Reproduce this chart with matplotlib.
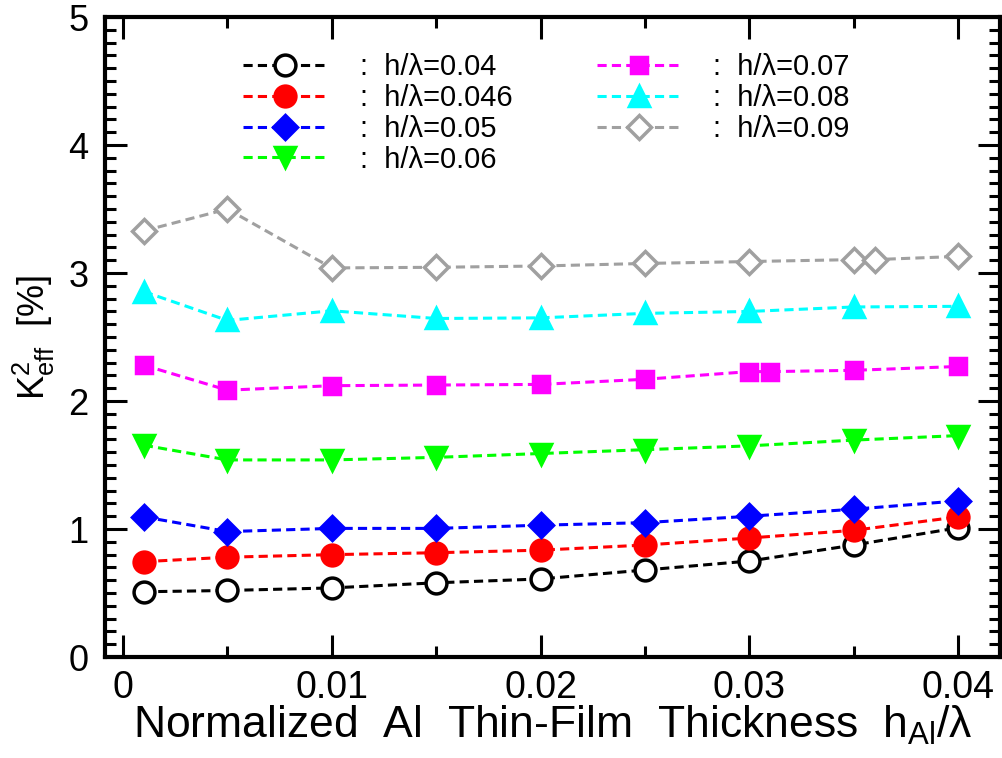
import matplotlib
matplotlib.use("Agg")
import matplotlib.pyplot as plt
from matplotlib.ticker import MultipleLocator

plt.rcParams['font.family'] = ['Liberation Sans', 'DejaVu Sans']
plt.rcParams['mathtext.fontset'] = 'custom'
plt.rcParams['mathtext.rm'] = 'Liberation Sans'
plt.rcParams['mathtext.it'] = 'Liberation Sans'

# ---- data ----
x_std = [0.001, 0.005, 0.010, 0.015, 0.020, 0.025, 0.030, 0.035, 0.040]
x_070 = [0.001, 0.005, 0.010, 0.015, 0.020, 0.025, 0.030, 0.031, 0.035, 0.040]
x_090 = [0.001, 0.005, 0.010, 0.015, 0.020, 0.025, 0.030, 0.035, 0.036, 0.040]

k_040 = [0.51, 0.52, 0.54, 0.58, 0.61, 0.68, 0.75, 0.875, 1.01]
k_046 = [0.745, 0.78, 0.80, 0.815, 0.835, 0.875, 0.93, 0.99, 1.095]
k_050 = [1.095, 0.98, 1.005, 1.005, 1.03, 1.05, 1.10, 1.155, 1.22]
k_060 = [1.655, 1.54, 1.54, 1.56, 1.59, 1.62, 1.65, 1.695, 1.73]
k_070 = [2.28, 2.085, 2.12, 2.125, 2.13, 2.17, 2.23, 2.23, 2.24, 2.27]
k_080 = [2.855, 2.63, 2.705, 2.645, 2.65, 2.685, 2.70, 2.735, 2.74]
k_090 = [3.33, 3.50, 3.04, 3.045, 3.055, 3.075, 3.09, 3.105, 3.105, 3.13]

labels = [':  h/λ=0.04', ':  h/λ=0.046', ':  h/λ=0.05', ':  h/λ=0.06',
          ':  h/λ=0.07', ':  h/λ=0.08', ':  h/λ=0.09']
x_ticks = [0, 0.01, 0.02, 0.03, 0.04]
x_ticklabels = ['0', '0.01', '0.02', '0.03', '0.04']
y_ticks = [0, 1, 2, 3, 4, 5]

fig = plt.figure(figsize=(10.02, 7.58), dpi=100)
ax = fig.add_axes([0.1048, 0.1332, 0.8932, 0.8443])

dash = (3.0, 1.7)
lw = 2.2
series = [
    (x_std, k_040, 'o', 'white', 'black', 15, 'black'),
    (x_std, k_046, 'o', '#ff0000', '#ff0000', 15, '#ff0000'),
    (x_std, k_050, 'D', '#0000ff', '#0000ff', 12.5, '#0000ff'),
    (x_std, k_060, 'v', '#00ff00', '#00ff00', 14.5, '#00ff00'),
    (x_070, k_070, 's', '#ff00ff', '#ff00ff', 12, '#ff00ff'),
    (x_std, k_080, '^', '#00ffff', '#00ffff', 14.5, '#00ffff'),
    (x_090, k_090, 'D', 'white', '#a0a0a0', 12, '#a0a0a0'),
]
handles = []
for (xs, ys, m, fc, ec, ms, lc), lab in zip(series, labels):
    h, = ax.plot(xs, ys, linestyle='--', dashes=dash, color=lc, lw=lw,
                 marker=m, markerfacecolor=fc, markeredgecolor=ec,
                 markersize=ms, markeredgewidth=2.5, label=lab)
    handles.append(h)

ax.set_xlim(-0.00086, 0.0420)
ax.set_ylim(0, 5)
ax.set_xticks(x_ticks)
ax.set_xticklabels(x_ticklabels)
ax.set_yticks(y_ticks)
ax.xaxis.set_minor_locator(MultipleLocator(0.005))
ax.yaxis.set_minor_locator(MultipleLocator(0.1))
ax.tick_params(which='both', direction='in', top=True, right=True, width=2.2)
ax.tick_params(which='major', length=16)
ax.tick_params(which='minor', length=8)
ax.tick_params(axis='y', which='major', labelsize=26, pad=12)
ax.tick_params(axis='x', which='major', labelsize=27, pad=9)
for s in ax.spines.values():
    s.set_linewidth(3)

ax.set_xlabel(r'Normalized  Al  Thin-Film  Thickness  h$_{\mathregular{Al}}$/λ',
              fontsize=32, labelpad=-1)
ax.set_ylabel(r'K$^{\mathregular{2}}_{\mathregular{eff}}$  [%]', fontsize=26, labelpad=8)

leg = ax.legend(handles=handles, ncol=2, loc='upper left',
                bbox_to_anchor=(0.154, 0.944), frameon=False, fontsize=21,
                handlelength=2.9, handletextpad=1.1, labelspacing=0.1,
                columnspacing=2.9, numpoints=1, borderpad=0, borderaxespad=0)

fig.savefig('out.png', dpi=100)
